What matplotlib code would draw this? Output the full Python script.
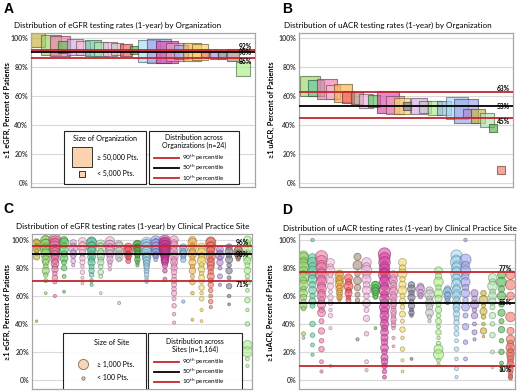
import matplotlib.pyplot as plt
import numpy as np
from matplotlib.colors import to_rgb
from matplotlib.patches import Rectangle

plt.rcParams["font.family"] = ["Lato", "DejaVu Sans"]
plt.rcParams["mathtext.fontset"] = "custom"
plt.rcParams["mathtext.rm"] = "Lato"

##################################################
# Organizations (order of panel A)
org_colors = ["#c9b23c", "#d7a9e3", "#98d66c", "#f07cab", "#f7bdd9", "#5fc45f",
              "#66c9a3", "#b3e6b3", "#eeb2dc", "#c6c6c6", "#f25660", "#a7dbf2",
              "#9ea3ea", "#dd48a9", "#f59cc9", "#f07868", "#56b44e", "#8fb8e0",
              "#f5b44c", "#f3d866", "#b08bd2", "#7d7a92", "#aa8b79", "#a9ee8a"]
org_pts = [20000, 27000, 50000, 50000, 23000, 14000, 27000, 20000, 20000, 14000,
           14000, 55000, 67000, 55000, 40000, 6800, 8900, 23000, 35000, 27000,
           6800, 6800, 14000, 20000]
org_egfr = [98.6, 93.5, 94.8, 94.1, 93.1, 93.8, 93.1, 92.4, 92.4, 92.4, 91.7, 91.0,
            91.0, 90.3, 90.3, 89.7, 91.4, 90.3, 90.3, 90.3, 88.3, 88.3, 88.0, 78.6]
org_uacr = [46.2, 52.8, 67.0, 64.5, 62.4, 56.2, 65.5, 43.4, 56.6, 52.2, 59.3, 51.7,
            49.3, 55.5, 53.8, 9.0, 38.0, 51.9, 62.0, 53.2, 48.3, 53.0, 58.6, 52.0]

# Clinical practice sites, one list per organization
site_pts = [
    [300, 800, 150, 500, 200, 120, 400, 60],
    [400, 300, 700, 200, 500, 150, 250, 100],
    [800, 1200, 600, 900, 1500, 700, 400, 1100, 500, 900, 300, 600, 400, 250, 500, 200, 150, 80],
    [1500, 1200, 900, 1100, 800, 1300, 700, 1000, 600, 900, 500, 800, 400, 700, 300, 600, 250, 400, 200, 300, 150, 100],
    [600, 300, 800, 200, 500, 400, 150, 300, 250, 120, 200, 100, 80],
    [500, 900, 300, 700, 400, 600, 250, 300, 150, 80],
    [120, 800, 1000, 600, 900, 500, 700, 400, 600, 300, 500, 250, 300, 200, 150, 100],
    [700, 400, 900, 300, 600, 500, 250, 400, 200, 300, 150, 80],
    [900, 600, 1100, 500, 800, 400, 700, 300, 600, 250, 400, 200, 150, 100],
    [500, 900, 300, 700, 400, 600, 200, 100],
    [600, 400, 800, 300, 500, 200, 250],
    [1200, 800, 1500, 600, 1000, 700, 1300, 500, 900, 600, 1100, 400, 800, 500, 700,
     300, 600, 400, 500, 300, 400, 250, 300, 200, 250, 150, 200, 120, 150, 100],
    [120, 1200, 600, 1000, 500, 800, 400, 700, 300, 600, 250, 400, 200, 150],
    [1500, 1200, 1300, 900, 1100, 800, 1400, 700, 1000, 600, 1200, 500, 900, 700, 1000,
     600, 800, 500, 700, 400, 600, 500, 400, 600, 300, 500, 400, 300, 200, 150],
    [700, 400, 600, 300, 500, 400, 700, 300, 500, 250, 400, 300, 200, 350, 250, 200, 300, 150, 200, 120, 100, 80],
    [800, 1000, 600, 900, 500, 700, 400, 800, 300, 600, 500, 400, 300, 500, 250, 300, 200, 150, 200, 100],
    [600, 900, 400, 700, 300, 500, 250, 400, 200, 300, 150, 100],
    [400, 700, 300, 500, 200, 300, 100],
    [500, 800, 300, 600, 400, 700, 250, 500, 200, 400, 150, 300, 120, 80],
    [600, 400, 800, 300, 500, 700, 250, 400, 200, 350, 150, 300, 120, 200, 100, 80],
    [500, 300, 700, 200, 400, 150, 250, 100],
    [400, 600, 300, 500, 200, 400, 150, 300, 120, 80],
    [500, 800, 300, 600, 400, 250, 200, 100],
    [600, 400, 900, 300, 700, 500, 250, 400, 200, 350, 150, 300, 120, 200, 800, 1000, 150, 100],
]
site_egfr = [
    [99, 97, 96, 94, 92, 90, 88, 42],
    [98, 96, 94, 92, 90, 88, 85, 82],
    [100, 99, 98, 97, 96, 95, 94, 93, 92, 90, 88, 86, 84, 81, 78, 75, 71, 62],
    [100, 99, 98, 97, 96, 95, 94, 93, 92, 91, 90, 89, 88, 86, 85, 83, 81, 79, 76, 73, 70, 60],
    [99, 97, 95, 94, 93, 91, 89, 87, 84, 81, 77, 73, 69],
    [100, 98, 96, 93, 90, 87, 84, 80, 74, 63],
    [100, 99, 98, 96, 95, 93, 92, 90, 88, 86, 84, 81, 78, 75, 71, 68],
    [97, 96, 94, 92, 90, 88, 86, 84, 81, 77, 74, 62],
    [99, 97, 96, 95, 94, 93, 92, 91, 90, 88, 86, 84, 82, 79],
    [97, 95, 93, 92, 90, 88, 86, 55],
    [95, 93, 92, 90, 89, 87, 85],
    [98, 97, 96, 96, 95, 94, 94, 93, 92, 92, 91, 90, 90, 89, 88,
     88, 87, 86, 85, 84, 83, 82, 81, 80, 78, 77, 75, 73, 71, 70],
    [100, 99, 98, 97, 96, 95, 94, 93, 92, 91, 90, 89, 88, 86],
    [99, 98, 97, 96, 96, 95, 95, 94, 94, 93, 93, 92, 92, 91, 91,
     90, 90, 89, 89, 88, 88, 87, 87, 86, 86, 85, 84, 82, 78, 72],
    [100, 98, 96, 94, 92, 90, 88, 86, 84, 82, 80, 77, 74, 71, 68, 65, 62, 58, 53, 47, 41, 24],
    [99, 98, 96, 95, 93, 92, 90, 88, 86, 84, 82, 80, 77, 74, 71, 68, 64, 60, 56, 52],
    [97, 96, 95, 94, 93, 92, 91, 90, 88, 86, 84, 82],
    [95, 93, 92, 90, 88, 86, 56],
    [100, 98, 96, 94, 92, 90, 87, 84, 81, 78, 74, 70, 62, 43],
    [95, 93, 91, 89, 87, 85, 82, 79, 76, 73, 70, 66, 62, 58, 50, 42],
    [93, 91, 89, 87, 84, 80, 74, 68],
    [95, 92, 89, 86, 82, 78, 73, 67, 60, 54],
    [93, 92, 91, 90, 89, 88, 87, 86],
    [100, 97, 94, 91, 88, 85, 82, 78, 74, 70, 64, 57, 50, 40, 25, 20, 15, 10],
]
site_uacr = [
    [62, 57, 53, 49, 45, 40, 35, 31],
    [67, 66, 65, 63, 62, 61, 60, 59],
    [89, 87, 85, 83, 80, 78, 76, 73, 71, 68, 65, 62, 59, 56, 53, 51, 33, 30],
    [88, 85, 82, 80, 77, 75, 72, 70, 67, 65, 62, 60, 57, 54, 50, 48, 42, 35, 28, 22, 13, 6],
    [84, 81, 78, 75, 71, 67, 63, 59, 55, 50, 46, 37, 10],
    [68, 67, 66, 65, 64, 63, 62, 60, 59, 37],
    [100, 87, 84, 81, 78, 75, 72, 68, 64, 60, 56, 53, 40, 32, 25, 18],
    [73, 70, 67, 63, 60, 56, 52, 46, 40, 32, 20, 9],
    [84, 81, 78, 75, 72, 68, 64, 60, 55, 50, 44, 33, 13, 7],
    [64, 61, 58, 55, 52, 48, 45, 42],
    [73, 70, 67, 64, 62, 59, 57],
    [89, 86, 84, 82, 80, 78, 76, 74, 72, 70, 68, 66, 64, 62, 60,
     58, 56, 54, 52, 50, 47, 44, 41, 37, 33, 28, 22, 15, 8, 2],
    [100, 86, 82, 78, 74, 70, 66, 62, 57, 52, 46, 38, 27, 15],
    [90, 87, 84, 81, 79, 77, 75, 72, 70, 67, 64, 61, 58, 55, 52,
     49, 46, 43, 40, 37, 34, 30, 27, 23, 20, 16, 13, 10, 6, 2],
    [75, 73, 71, 69, 67, 65, 63, 61, 59, 57, 55, 53, 51, 49, 47, 45, 43, 41, 39, 37, 30, 24],
    [75, 68, 60, 45, 35, 29, 26, 23, 21, 19, 17, 15, 13, 11, 9, 7, 5, 3, 2, 1],
    [75, 70, 65, 60, 54, 48, 42, 36, 28, 20, 12, 7],
    [65, 63, 61, 60, 58, 56, 55],
    [76, 74, 73, 71, 70, 68, 67, 65, 64, 62, 61, 59, 58, 57],
    [84, 80, 76, 72, 68, 64, 60, 56, 52, 47, 42, 36, 30, 22, 14, 6],
    [62, 58, 54, 50, 46, 40, 34, 29],
    [68, 65, 62, 59, 56, 53, 50, 48, 46, 15],
    [88, 82, 76, 71, 66, 61, 57, 29],
    [78, 74, 70, 66, 62, 58, 54, 50, 46, 42, 38, 34, 30, 26, 22, 18, 14, 11],
]

# 90th / 50th / 10th percentiles
egfr_org_pct = [92, 90, 86]
uacr_org_pct = [63, 53, 45]
egfr_site_pct = [96, 90, 71]
uacr_site_pct = [77, 55, 10]

RED = "#c1272d"
pct_colors = [RED, "black", RED]

##################################################
W, H = 520, 392
fig = plt.figure(figsize=(W / 100, H / 100), dpi=100)


def add_axes(l, t, r, b):
    return fig.add_axes([l / W, 1 - b / H, (r - l) / W, (b - t) / H])


def darker(c, f=0.45):
    return tuple(v * f for v in to_rgb(c))


def style(ax, ylim):
    ax.set_ylim(*ylim)
    ticks = [0, 20, 40, 60, 80, 100]
    ax.set_yticks(ticks)
    ax.set_yticklabels([f"{t}%" for t in ticks], fontsize=5, fontweight="bold",
                       color="#404040")
    ax.tick_params(axis="y", length=0, pad=2)
    ax.set_xticks([])
    ax.grid(axis="y", color="#d9d9d9", lw=0.8)
    ax.set_axisbelow(True)
    for sp in ax.spines.values():
        sp.set_color("#a6a6a6")
        sp.set_linewidth(0.9)


def pct_lines(ax, pcts):
    tr = ax.get_yaxis_transform()
    for p, c, va in zip(pcts, pct_colors, ["bottom", "center", "top"]):
        ax.axhline(p, color=c, lw=1.3, zorder=3)
        ax.text(0.985, p, f"{p}%", transform=tr, ha="right", va=va,
                fontsize=4.8, fontweight="bold", zorder=6)


def org_panel(ax, rates, xmax):
    order = np.argsort(-np.array(rates), kind="stable")
    ax.set_xlim(0, xmax)
    px_unit = ax.bbox.width / xmax
    for k, j in enumerate(order):
        side = 0.093 * np.sqrt(org_pts[j])
        ax.scatter(k + 0.1 + side / 2 / px_unit, rates[j], marker="s",
                   s=(side * 0.72) ** 2, color=org_colors[j], alpha=0.65,
                   edgecolors=[darker(org_colors[j]) + (0.9,)], linewidths=0.8,
                   zorder=2)


def site_panel(ax, org_rates, site_rates):
    order = np.argsort(-np.array(org_rates), kind="stable")
    ax.set_xlim(-0.5, len(order) - 0.5)
    for k, j in enumerate(order):
        d = 0.32 * np.sqrt(np.array(site_pts[j]))
        ax.scatter(np.full(len(d), k), site_rates[j], s=(d * 0.72) ** 2,
                   color=org_colors[j], alpha=0.6,
                   edgecolors=[darker(org_colors[j], 0.6) + (0.8,)],
                   linewidths=0.6, zorder=2)


def legend_box(ax, x0, x1, y0, y1):
    ax.add_patch(Rectangle((x0, y0), x1 - x0, y1 - y0, transform=ax.transAxes,
                           facecolor="white", alpha=0.9, edgecolor="none", zorder=4))
    ax.add_patch(Rectangle((x0, y0), x1 - x0, y1 - y0, transform=ax.transAxes,
                           facecolor="none", edgecolor="#222222", lw=0.8, zorder=5))


def pct_legend(ax, x0, x1, ys, lab_x):
    for y, c, n in zip(ys, pct_colors, ["90", "50", "10"]):
        ax.plot([x0, x1], [y, y], color=c, lw=1.3, transform=ax.transAxes, zorder=6)
        ax.text(lab_x, y, n + r"$^{\mathrm{th}}$ percentile", transform=ax.transAxes,
                fontsize=4.6, va="center", ha="left", zorder=6)


axA = add_axes(31, 33, 255, 187)
axB = add_axes(299, 33, 513, 187)
axC = add_axes(32, 234, 252, 389)
axD = add_axes(299, 234, 515, 389)

for ax in (axA, axB):
    style(ax, (-2.8, 103.4))
for ax in (axC, axD):
    style(ax, (-6.5, 104.3))

org_panel(axA, org_egfr, 25.2)
org_panel(axB, org_uacr, 24.95)
site_panel(axC, org_egfr, site_egfr)
site_panel(axD, org_uacr, site_uacr)

pct_lines(axA, egfr_org_pct)
pct_lines(axB, uacr_org_pct)
pct_lines(axC, egfr_site_pct)
pct_lines(axD, uacr_site_pct)

# legends, panel A
legend_box(axA, 0.147, 0.513, 0.019, 0.364)
legend_box(axA, 0.527, 0.929, 0.019, 0.364)
axA.text(0.330, 0.312, "Size of Organization", transform=axA.transAxes,
         fontsize=5.2, ha="center", va="center", zorder=6)
for y, p, lab in [(0.195, 50000, "≥ 50,000 Pts."), (0.085, 5000, "< 5,000 Pts.")]:
    side = 0.085 * np.sqrt(p)
    axA.scatter(0.228, y, marker="s", s=(side * 0.72) ** 2, color="#fbd3b0",
                edgecolors="#333333", linewidths=0.7, transform=axA.transAxes, zorder=6)
    axA.text(0.295, y, lab, transform=axA.transAxes, fontsize=5, va="center", zorder=6)
axA.text(0.728, 0.298, "Distribution across\nOrganizations (n=24)",
         transform=axA.transAxes, fontsize=5, ha="center", va="center",
         linespacing=1.1, zorder=6)
pct_legend(axA, 0.550, 0.660, [0.188, 0.122, 0.056], 0.674)

# legends, panel C
legend_box(axC, 0.141, 0.518, -0.01, 0.361)
legend_box(axC, 0.527, 0.955, -0.01, 0.361)
axC.text(0.36, 0.297, "Size of Site", transform=axC.transAxes,
         fontsize=5.2, ha="center", va="center", zorder=6)
for y, p, lab in [(0.161, 1000, "≥ 1,000 Pts."), (0.071, 100, "< 100 Pts.")]:
    d = 0.32 * np.sqrt(p)
    axC.scatter(0.232, y, s=(d * 0.72) ** 2, color="#f5d6b8",
                edgecolors="#8a6a50", linewidths=0.6, transform=axC.transAxes, zorder=6)
    axC.text(0.295, y, lab, transform=axC.transAxes, fontsize=5, va="center", zorder=6)
axC.text(0.741, 0.280, "Distribution across\nSites (n=1,164)",
         transform=axC.transAxes, fontsize=5, ha="center", va="center",
         linespacing=1.1, zorder=6)
pct_legend(axC, 0.555, 0.668, [0.176, 0.112, 0.048], 0.681)

# titles, axis labels, panel letters
titles = [
    (118, 25, "Distribution of eGFR testing rates (1-year) by Organization"),
    (388, 25, "Distribution of uACR testing rates (1-year) by Organization"),
    (133, 226, "Distribution of eGFR testing rates (1-year) by Clinical Practice Site"),
    (400, 228, "Distribution of uACR testing rates (1-year) by Clinical Practice Site"),
]
for x, y, t in titles:
    fig.text(x / W, 1 - y / H, t, fontsize=5.75, ha="center", va="center")

ylabels = [(7, 110, "≥1 eGFR, Percent of Patients"), (271, 110, "≥1 uACR, Percent of Patients"),
           (7, 312, "≥1 eGFR, Percent of Patients"), (270, 313, "≥1 uACR, Percent of Patients")]
for x, y, t in ylabels:
    fig.text(x / W, 1 - y / H, t, fontsize=5.3, fontweight="bold", rotation=90,
             ha="center", va="center")

for x, y, t in [(4, 2, "A"), (282, 2, "B"), (3, 202, "C"), (282, 203, "D")]:
    fig.text(x / W, 1 - y / H, t, fontsize=10, fontweight="bold", ha="left", va="top",
             family="Liberation Sans")

fig.savefig("out.png", dpi=100)
